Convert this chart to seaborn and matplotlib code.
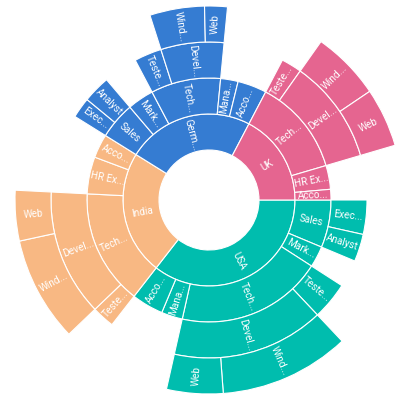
import numpy as np
import matplotlib
matplotlib.use("Agg")
import matplotlib.pyplot as plt
import seaborn as sns

sns.set_style("white")
plt.rcParams['font.family'] = ['Roboto', 'DejaVu Sans']

# leaf paths and values
paths = [
    ("USA", "Sales", "Executive", None), ("USA", "Sales", "Analyst", None),
    ("USA", "Marketing", None, None),
    ("USA", "Technical", "Testers", None),
    ("USA", "Technical", "Developers", "Windows"), ("USA", "Technical", "Developers", "Web"),
    ("USA", "Management", None, None), ("USA", "Accounts", None, None),
    ("India", "Technical", "Testers", None),
    ("India", "Technical", "Developers", "Windows"), ("India", "Technical", "Developers", "Web"),
    ("India", "HR Executives", None, None), ("India", "Accounts", None, None),
    ("Germany", "Sales", "Executive", None), ("Germany", "Sales", "Analyst", None),
    ("Germany", "Marketing", None, None),
    ("Germany", "Technical", "Testers", None),
    ("Germany", "Technical", "Developers", "Windows"), ("Germany", "Technical", "Developers", "Web"),
    ("Germany", "Management", None, None), ("Germany", "Accounts", None, None),
    ("UK", "Technical", "Testers", None),
    ("UK", "Technical", "Developers", "Windows"), ("UK", "Technical", "Developers", "Web"),
    ("UK", "HR Executives", None, None), ("UK", "Accounts", None, None),
]
values = [50, 40, 40, 55, 155, 67, 40, 60,
          33, 125, 60, 70, 45,
          30, 40, 50, 40, 65, 27, 33, 55,
          30, 82, 70, 45, 20]
colors = {"USA": "#00BDAE", "India": "#F8B883", "Germany": "#357CD2", "UK": "#E56590"}
short = {"Executive": "Exec...", "Marketing": "Mark...", "Technical": "Tech...",
         "Testers": "Teste...", "Developers": "Devel...", "Windows": "Wind...",
         "Management": "Mana...", "Accounts": "Acco...", "HR Executives": "HR Ex...",
         "Germany": "Germ..."}

total = sum(values)
fig = plt.figure(figsize=(4, 4), dpi=100)
ax = fig.add_axes([9 / 400, 0, 1, 1], projection="polar")
ax.set_theta_offset(0)
ax.set_theta_direction(-1)
ax.set_ylim(0, 200)
ax.axis("off")

r0, w = 50, 36
for level in range(4):
    nodes = []  # (key, start, value)
    start = 0.0
    for p, v in zip(paths, values):
        key = p[:level + 1]
        if key[-1] is None:
            start += v
            continue
        if nodes and nodes[-1][0] == key and abs(nodes[-1][1] + nodes[-1][2] - start) < 1e-9:
            nodes[-1] = (key, nodes[-1][1], nodes[-1][2] + v)
        else:
            nodes.append((key, start, v))
        start += v
    for key, s, v in nodes:
        th0 = s / total * 2 * np.pi
        th = v / total * 2 * np.pi
        ax.bar(th0, w, width=th, bottom=r0 + level * w, align="edge",
               color=colors[key[0]], edgecolor="white", linewidth=0.8)
        mid = th0 + th / 2
        a = -np.degrees(mid)
        rot = ((a + 90) % 180) - 90
        name = key[-1]
        ax.text(mid, r0 + level * w + w / 2, short.get(name, name), color="white",
                fontsize=7.2, rotation=rot, rotation_mode="anchor",
                ha="center", va="center")

fig.savefig("out.png", dpi=100)
